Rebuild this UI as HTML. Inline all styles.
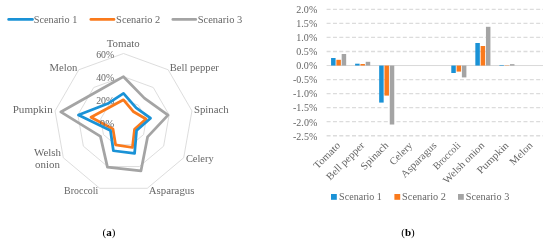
<!DOCTYPE html>
<html><head><meta charset="utf-8"><style>
html,body{margin:0;padding:0;background:#fff;width:550px;height:242px;overflow:hidden}
svg{display:block}
.t{font-family:"Liberation Serif",serif;font-size:10.3px;fill:#666666}
.cap{font-family:"Liberation Serif",serif;font-size:11px;fill:#000}
</style></head><body>
<svg width="550" height="242" viewBox="0 0 550 242">
<polygon points="123.50,99.83 138.39,105.25 146.31,118.98 143.56,134.58 131.42,144.77 115.58,144.77 103.44,134.58 100.69,118.98 108.61,105.25" fill="none" stroke="#D9D9D9" stroke-width="0.9"/>
<polygon points="123.50,76.67 153.28,87.51 169.13,114.95 163.63,146.17 139.35,166.54 107.65,166.54 83.37,146.17 77.87,114.95 93.72,87.51" fill="none" stroke="#D9D9D9" stroke-width="0.9"/>
<polygon points="123.50,53.50 168.17,69.76 191.94,110.93 183.69,157.75 147.27,188.31 99.73,188.31 63.31,157.75 55.06,110.93 78.83,69.76" fill="none" stroke="#D9D9D9" stroke-width="0.9"/>
<polygon points="123.50,99.83 133.18,111.46 145.97,119.04 134.53,129.37 132.41,147.49 115.58,144.77 112.97,129.08 90.99,117.27 110.10,107.03" fill="none" stroke="#FA7A1C" stroke-width="2.75" stroke-linejoin="round"/>
<text x="114.20" y="123.50" class="t" text-anchor="end" textLength="14.40" lengthAdjust="spacingAndGlyphs" dominant-baseline="central">0%</text>
<text x="114.20" y="100.33" class="t" text-anchor="end" textLength="18.00" lengthAdjust="spacingAndGlyphs" dominant-baseline="central">20%</text>
<text x="114.20" y="77.17" class="t" text-anchor="end" textLength="18.00" lengthAdjust="spacingAndGlyphs" dominant-baseline="central">40%</text>
<text x="114.20" y="54.00" class="t" text-anchor="end" textLength="18.00" lengthAdjust="spacingAndGlyphs" dominant-baseline="central">60%</text>
<polygon points="123.50,93.46 136.16,107.92 150.54,118.23 136.54,130.53 134.59,153.48 113.40,150.76 110.46,130.53 78.44,115.05 107.42,103.83" fill="none" stroke="#1A92D6" stroke-width="2.75" stroke-linejoin="round"/>
<polygon points="123.50,76.67 144.35,98.15 167.99,115.16 147.58,136.90 140.93,170.89 107.45,167.08 100.43,136.32 60.76,111.94 97.07,91.50" fill="none" stroke="#A4A4A4" stroke-width="2.75" stroke-linejoin="round"/>
<text x="106.70" y="46.50" class="t" textLength="33.10" lengthAdjust="spacingAndGlyphs">Tomato</text>
<text x="169.70" y="71.00" class="t" textLength="49.20" lengthAdjust="spacingAndGlyphs">Bell pepper</text>
<text x="194.00" y="113.40" class="t" textLength="34.70" lengthAdjust="spacingAndGlyphs">Spinach</text>
<text x="185.90" y="161.80" class="t" textLength="27.80" lengthAdjust="spacingAndGlyphs">Celery</text>
<text x="148.80" y="194.30" class="t" textLength="45.60" lengthAdjust="spacingAndGlyphs">Asparagus</text>
<text x="64.10" y="193.60" class="t" textLength="34.20" lengthAdjust="spacingAndGlyphs">Broccoli</text>
<text x="12.70" y="112.80" class="t" textLength="40.00" lengthAdjust="spacingAndGlyphs">Pumpkin</text>
<text x="49.50" y="71.00" class="t" textLength="27.90" lengthAdjust="spacingAndGlyphs">Melon</text>
<text x="34.00" y="155.50" class="t" textLength="27.00" lengthAdjust="spacingAndGlyphs">Welsh</text>
<text x="35.00" y="168.40" class="t" textLength="24.90" lengthAdjust="spacingAndGlyphs">onion</text>
<line x1="8.6" y1="19.4" x2="32.5" y2="19.4" stroke="#1A92D6" stroke-width="2.6" stroke-linecap="round"/>
<text x="33.70" y="23.00" class="t" textLength="43.60" lengthAdjust="spacingAndGlyphs">Scenario 1</text>
<line x1="90.8" y1="19.4" x2="114.0" y2="19.4" stroke="#FA7A1C" stroke-width="2.6" stroke-linecap="round"/>
<text x="116.10" y="23.00" class="t" textLength="44.20" lengthAdjust="spacingAndGlyphs">Scenario 2</text>
<line x1="172.8" y1="19.4" x2="195.8" y2="19.4" stroke="#A4A4A4" stroke-width="2.6" stroke-linecap="round"/>
<text x="197.70" y="23.00" class="t" textLength="44.60" lengthAdjust="spacingAndGlyphs">Scenario 3</text>
<text x="109" y="236" class="cap" text-anchor="middle">(<tspan font-weight="bold">a</tspan>)</text>
<text x="408" y="236" class="cap" text-anchor="middle">(<tspan font-weight="bold">b</tspan>)</text>
<line x1="326.6" y1="9.39" x2="543.0" y2="9.39" stroke="#DCDCDC" stroke-width="1.3" stroke-dasharray="4 2.35"/>
<text x="317.30" y="9.69" class="t" text-anchor="end" textLength="21.00" lengthAdjust="spacingAndGlyphs" dominant-baseline="central">2.0%</text>
<line x1="326.6" y1="23.43" x2="543.0" y2="23.43" stroke="#DCDCDC" stroke-width="1.3" stroke-dasharray="4 2.35"/>
<text x="317.30" y="23.73" class="t" text-anchor="end" textLength="21.00" lengthAdjust="spacingAndGlyphs" dominant-baseline="central">1.5%</text>
<line x1="326.6" y1="37.47" x2="543.0" y2="37.47" stroke="#DCDCDC" stroke-width="1.3" stroke-dasharray="4 2.35"/>
<text x="317.30" y="37.77" class="t" text-anchor="end" textLength="21.00" lengthAdjust="spacingAndGlyphs" dominant-baseline="central">1.0%</text>
<line x1="326.6" y1="51.51" x2="543.0" y2="51.51" stroke="#DCDCDC" stroke-width="1.3" stroke-dasharray="4 2.35"/>
<text x="317.30" y="51.81" class="t" text-anchor="end" textLength="21.00" lengthAdjust="spacingAndGlyphs" dominant-baseline="central">0.5%</text>
<line x1="326.6" y1="65.55" x2="543.0" y2="65.55" stroke="#D9D9D9" stroke-width="1"/>
<text x="317.30" y="65.85" class="t" text-anchor="end" textLength="21.00" lengthAdjust="spacingAndGlyphs" dominant-baseline="central">0.0%</text>
<line x1="326.6" y1="79.59" x2="543.0" y2="79.59" stroke="#DCDCDC" stroke-width="1.3" stroke-dasharray="4 2.35"/>
<text x="317.30" y="79.89" class="t" text-anchor="end" textLength="24.30" lengthAdjust="spacingAndGlyphs" dominant-baseline="central">-0.5%</text>
<line x1="326.6" y1="93.63" x2="543.0" y2="93.63" stroke="#DCDCDC" stroke-width="1.3" stroke-dasharray="4 2.35"/>
<text x="317.30" y="93.93" class="t" text-anchor="end" textLength="24.30" lengthAdjust="spacingAndGlyphs" dominant-baseline="central">-1.0%</text>
<line x1="326.6" y1="107.67" x2="543.0" y2="107.67" stroke="#DCDCDC" stroke-width="1.3" stroke-dasharray="4 2.35"/>
<text x="317.30" y="107.97" class="t" text-anchor="end" textLength="24.30" lengthAdjust="spacingAndGlyphs" dominant-baseline="central">-1.5%</text>
<line x1="326.6" y1="121.71" x2="543.0" y2="121.71" stroke="#DCDCDC" stroke-width="1.3" stroke-dasharray="4 2.35"/>
<text x="317.30" y="122.01" class="t" text-anchor="end" textLength="24.30" lengthAdjust="spacingAndGlyphs" dominant-baseline="central">-2.0%</text>
<line x1="326.6" y1="135.75" x2="543.0" y2="135.75" stroke="#DCDCDC" stroke-width="1.3" stroke-dasharray="4 2.35"/>
<text x="317.30" y="136.05" class="t" text-anchor="end" textLength="24.30" lengthAdjust="spacingAndGlyphs" dominant-baseline="central">-2.5%</text>
<rect x="331.07" y="58.00" width="4.50" height="7.55" fill="#1A92D6"/>
<rect x="336.37" y="59.79" width="4.50" height="5.76" fill="#FA7A1C"/>
<rect x="341.67" y="54.01" width="4.50" height="11.54" fill="#A4A4A4"/>
<text class="t" text-anchor="end" textLength="33.10" lengthAdjust="spacingAndGlyphs" transform="translate(340.92,146.00) rotate(-45)">Tomato</text>
<rect x="355.12" y="63.70" width="4.50" height="1.85" fill="#1A92D6"/>
<rect x="360.42" y="64.01" width="4.50" height="1.54" fill="#FA7A1C"/>
<rect x="365.72" y="61.79" width="4.50" height="3.76" fill="#A4A4A4"/>
<text class="t" text-anchor="end" textLength="49.20" lengthAdjust="spacingAndGlyphs" transform="translate(364.97,146.00) rotate(-45)">Bell pepper</text>
<rect x="379.16" y="65.55" width="4.50" height="37.04" fill="#1A92D6"/>
<rect x="384.46" y="65.55" width="4.50" height="30.05" fill="#FA7A1C"/>
<rect x="389.76" y="65.55" width="4.50" height="58.97" fill="#A4A4A4"/>
<text class="t" text-anchor="end" textLength="34.70" lengthAdjust="spacingAndGlyphs" transform="translate(389.01,146.00) rotate(-45)">Spinach</text>
<text class="t" text-anchor="end" textLength="27.80" lengthAdjust="spacingAndGlyphs" transform="translate(413.06,146.00) rotate(-45)">Celery</text>
<text class="t" text-anchor="end" textLength="45.60" lengthAdjust="spacingAndGlyphs" transform="translate(437.10,146.00) rotate(-45)">Asparagus</text>
<rect x="451.29" y="65.55" width="4.50" height="7.44" fill="#1A92D6"/>
<rect x="456.59" y="65.55" width="4.50" height="6.04" fill="#FA7A1C"/>
<rect x="461.89" y="65.55" width="4.50" height="11.85" fill="#A4A4A4"/>
<text class="t" text-anchor="end" textLength="34.20" lengthAdjust="spacingAndGlyphs" transform="translate(461.14,146.00) rotate(-45)">Broccoli</text>
<rect x="475.34" y="43.00" width="4.50" height="22.55" fill="#1A92D6"/>
<rect x="480.64" y="46.01" width="4.50" height="19.54" fill="#FA7A1C"/>
<rect x="485.94" y="26.80" width="4.50" height="38.75" fill="#A4A4A4"/>
<text class="t" text-anchor="end" textLength="54.00" lengthAdjust="spacingAndGlyphs" transform="translate(485.19,146.00) rotate(-45)">Welsh onion</text>
<rect x="499.38" y="64.99" width="4.50" height="0.56" fill="#1A92D6"/>
<rect x="504.68" y="65.27" width="4.50" height="0.28" fill="#FA7A1C"/>
<rect x="509.98" y="64.15" width="4.50" height="1.40" fill="#A4A4A4"/>
<text class="t" text-anchor="end" textLength="40.00" lengthAdjust="spacingAndGlyphs" transform="translate(509.23,146.00) rotate(-45)">Pumpkin</text>
<text class="t" text-anchor="end" textLength="27.90" lengthAdjust="spacingAndGlyphs" transform="translate(533.28,146.00) rotate(-45)">Melon</text>
<rect x="331.0" y="194" width="5.8" height="5.8" fill="#1A92D6"/>
<text x="339.10" y="200.00" class="t" textLength="42.80" lengthAdjust="spacingAndGlyphs">Scenario 1</text>
<rect x="394.4" y="194" width="5.8" height="5.8" fill="#FA7A1C"/>
<text x="402.10" y="200.00" class="t" textLength="43.80" lengthAdjust="spacingAndGlyphs">Scenario 2</text>
<rect x="458.0" y="194" width="5.8" height="5.8" fill="#A4A4A4"/>
<text x="465.70" y="200.00" class="t" textLength="43.60" lengthAdjust="spacingAndGlyphs">Scenario 3</text>
</svg>
</body></html>
